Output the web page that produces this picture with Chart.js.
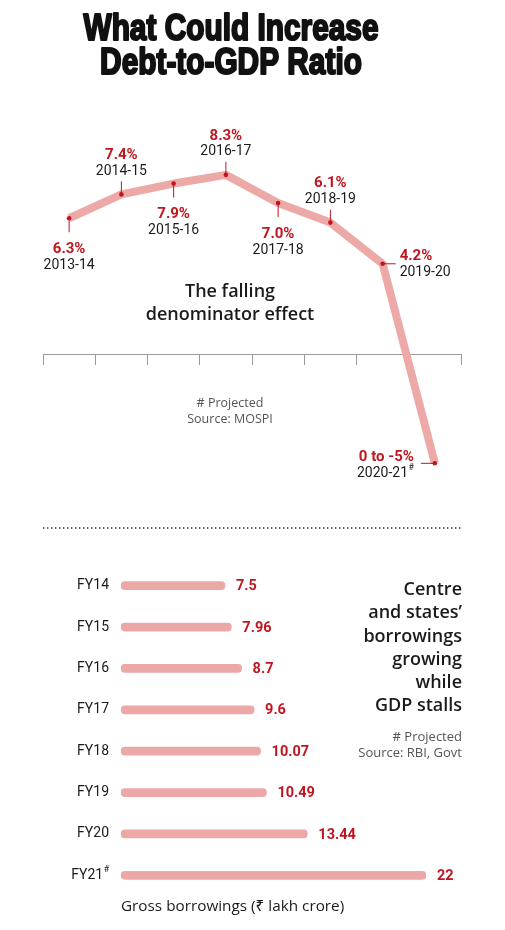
<!DOCTYPE html>
<html>
<head>
<meta charset="utf-8">
<script src="https://cdn.jsdelivr.net/npm/chart.js@4.4.1/dist/chart.umd.min.js"></script>
<style>
  html, body { margin: 0; padding: 0; background: #fff; }
  #wrap { position: relative; width: 505px; height: 930px; overflow: hidden; }
  #top { position: absolute; left: 0; top: 0; width: 505px; height: 530px; }
  #bot { position: absolute; left: 0; top: 530px; width: 505px; height: 400px; }
</style>
</head>
<body>
<div id="wrap">
  <div id="top"><canvas id="ratio-chart"></canvas></div>
  <div id="bot"><canvas id="borrow-chart"></canvas></div>
</div>
<script>
// debt-to-GDP growth panel
const years = ["2013-14", "2014-15", "2015-16", "2016-17", "2017-18", "2018-19", "2019-20", "2020-21#"];
const growth = [6.3, 7.4, 7.9, 8.3, 7.0, 6.1, 4.2, -5];
const growthLabels = ["6.3%", "7.4%", "7.9%", "8.3%", "7.0%", "6.1%", "4.2%", "0 to -5%"];

// borrowings panel
const fyears = ["FY14", "FY15", "FY16", "FY17", "FY18", "FY19", "FY20", "FY21#"];
const borrowings = [7.5, 7.96, 8.7, 9.6, 10.07, 10.49, 13.44, 22];

const titleLines = ["What Could Increase", "Debt-to-GDP Ratio"];
const sideNote = ["Centre", "and states\u2019", "borrowings", "growing", "while", "GDP stalls"];

const Colors = {
  line: "#eda9a7",
  bar: "#eba8a6",
  red: "#c0161f",
  ink: "#1b1b1b",
  grey: "#555555",
  axis: "#9a9a9a",
};
const FONT = "Roboto, 'Noto Sans', sans-serif";
const WIDE = "'Open Sans', 'Noto Sans', sans-serif";

// text with an optional trailing "#" drawn as superscript
function drawText(ctx, text, x, y, align, size, weight, color, family = FONT) {
  const sup = text.endsWith("#");
  const base = sup ? text.slice(0, -1) : text;
  ctx.font = `${weight} ${size}px ${family}`;
  const w = ctx.measureText(base).width;
  ctx.font = `${weight} ${size * 0.62}px ${family}`;
  const ws = sup ? ctx.measureText("#").width + 0.5 : 0;
  let x0 = x;
  if (align === "right") x0 = x - w - ws;
  else if (align === "center") x0 = x - (w + ws) / 2;
  ctx.fillStyle = color;
  ctx.textAlign = "left";
  ctx.textBaseline = "middle";
  ctx.font = `${weight} ${size}px ${family}`;
  ctx.fillText(base, x0, y);
  if (sup) {
    ctx.font = `${weight} ${size * 0.62}px ${family}`;
    ctx.fillText("#", x0 + w + 0.5, y - size * 0.38);
  }
}

function leader(ctx, x1, y1, x2, y2) {
  ctx.strokeStyle = Colors.red;
  ctx.lineWidth = 1;
  ctx.beginPath();
  ctx.moveTo(x1, y1);
  ctx.lineTo(x2, y2);
  ctx.stroke();
}

const ratioNotes = {
  id: "ratioNotes",
  afterDatasetsDraw(chart) {
    const ctx = chart.ctx;
    const pts = chart.getDatasetMeta(0).data;
    const area = chart.chartArea;
    const cx = 230;
    ctx.save();

    pts.forEach((p, i) => {
      const last = i === pts.length - 1;
      if (i === pts.length - 2) {
        leader(ctx, p.x, p.y, p.x + 13, p.y);
        drawText(ctx, growthLabels[i], p.x + 17, p.y - 8, "left", 15, 700, Colors.red);
        drawText(ctx, years[i], p.x + 17, p.y + 9, "left", 14, 400, Colors.ink);
      } else if (last) {
        leader(ctx, p.x - 14, p.y, p.x, p.y);
        drawText(ctx, growthLabels[i], p.x - 21, p.y - 6, "right", 15, 700, Colors.red);
        drawText(ctx, years[i], p.x - 21, p.y + 10, "right", 14, 400, Colors.ink);
      } else if (i % 2 === 0) {
        leader(ctx, p.x, p.y, p.x, p.y + 14);
        drawText(ctx, growthLabels[i], p.x, p.y + 31, "center", 15, 700, Colors.red);
        drawText(ctx, years[i], p.x, p.y + 47, "center", 14, 400, Colors.ink);
      } else {
        leader(ctx, p.x, p.y, p.x, p.y - 13);
        drawText(ctx, growthLabels[i], p.x, p.y - 39, "center", 15, 700, Colors.red);
        drawText(ctx, years[i], p.x, p.y - 23, "center", 14, 400, Colors.ink);
      }
    });

    // title, condensed to the reference width
    ctx.font = "bold 37px 'Liberation Sans', Arial, sans-serif";
    const sx = 295 / ctx.measureText(titleLines[0]).width;
    ctx.save();
    ctx.translate(231, 0);
    ctx.scale(sx, 1);
    ctx.fillStyle = "#111";
    ctx.strokeStyle = "#111";
    ctx.lineWidth = 2.2;
    ctx.lineJoin = "round";
    ctx.textAlign = "center";
    ctx.textBaseline = "alphabetic";
    ctx.fillText(titleLines[0], 0, 40);
    ctx.strokeText(titleLines[0], 0, 40);
    ctx.fillText(titleLines[1], 0, 74);
    ctx.strokeText(titleLines[1], 0, 74);
    ctx.restore();

    drawText(ctx, "The falling", cx, 292, "center", 18, 600, Colors.ink, WIDE);
    drawText(ctx, "denominator effect", cx, 315, "center", 18, 600, Colors.ink, WIDE);
    drawText(ctx, "# Projected", cx, 403, "center", 12.5, 400, Colors.grey, WIDE);
    drawText(ctx, "Source: MOSPI", cx, 419, "center", 12.5, 400, Colors.grey, WIDE);

    // dotted divider
    ctx.strokeStyle = "#333";
    ctx.lineWidth = 1.4;
    ctx.setLineDash([1.4, 2.6]);
    ctx.beginPath();
    ctx.moveTo(area.left, 528);
    ctx.lineTo(area.right + 1, 528);
    ctx.stroke();
    ctx.restore();
  },
};

const borrowNotes = {
  id: "borrowNotes",
  afterDatasetsDraw(chart) {
    const ctx = chart.ctx;
    const bars = chart.getDatasetMeta(0).data;
    const area = chart.chartArea;
    ctx.save();
    bars.forEach((b, i) => {
      drawText(ctx, fyears[i], area.left - 12, b.y, "right", 14, 400, Colors.ink);
      drawText(ctx, String(borrowings[i]), b.x + 11, b.y + 1, "left", 14.5, 700, Colors.red);
    });
    sideNote.forEach((t, i) => {
      drawText(ctx, t, 462, 60 + i * 23.2, "right", 18, 600, Colors.ink, WIDE);
    });
    drawText(ctx, "# Projected", 462, 207, "right", 13, 400, Colors.grey, WIDE);
    drawText(ctx, "Source: RBI, Govt", 462, 223, "right", 13, 400, Colors.grey, WIDE);
    drawText(ctx, "Gross borrowings (\u20b9 lakh crore)", area.left, 377, "left", 15.3, 400, Colors.ink, WIDE);
    ctx.restore();
  },
};

function initRatioChart() {
  return new Chart(document.getElementById("ratio-chart"), {
    type: "line",
    data: {
      labels: years,
      datasets: [{
        data: growth,
        borderColor: Colors.line,
        borderWidth: 8,
        borderJoinStyle: "round",
        tension: 0,
        pointRadius: 2.3,
        pointBackgroundColor: Colors.red,
        pointBorderWidth: 0,
        clip: false,
      }],
    },
    options: {
      responsive: true,
      maintainAspectRatio: false,
      animation: false,
      events: [],
      layout: { padding: { left: 43, right: 44, top: 138, bottom: 45 } },
      plugins: { legend: { display: false }, tooltip: { enabled: false } },
      scales: {
        x: {
          type: "category",
          offset: true,
          position: { y: 0 },
          grid: { offset: true, drawOnChartArea: false, tickLength: 10, color: Colors.axis, lineWidth: 1 },
          border: { color: Colors.axis, width: 1 },
          ticks: { display: false },
        },
        y: { display: false, min: -6, max: 10 },
      },
    },
    plugins: [ratioNotes],
  });
}

function initBorrowChart() {
  return new Chart(document.getElementById("borrow-chart"), {
    type: "bar",
    data: {
      labels: fyears,
      datasets: [{
        data: borrowings,
        backgroundColor: Colors.bar,
        barThickness: 8,
        borderRadius: 4,
        borderSkipped: false,
      }],
    },
    options: {
      indexAxis: "y",
      responsive: true,
      maintainAspectRatio: false,
      animation: false,
      events: [],
      layout: { padding: { left: 121, right: 79, top: 35, bottom: 34 } },
      plugins: { legend: { display: false }, tooltip: { enabled: false } },
      scales: {
        x: { display: false, min: 0, max: 22 },
        y: { display: false },
      },
    },
    plugins: [borrowNotes],
  });
}

document.addEventListener("DOMContentLoaded", () => {
  initRatioChart();
  initBorrowChart();
});
</script>
</body>
</html>
